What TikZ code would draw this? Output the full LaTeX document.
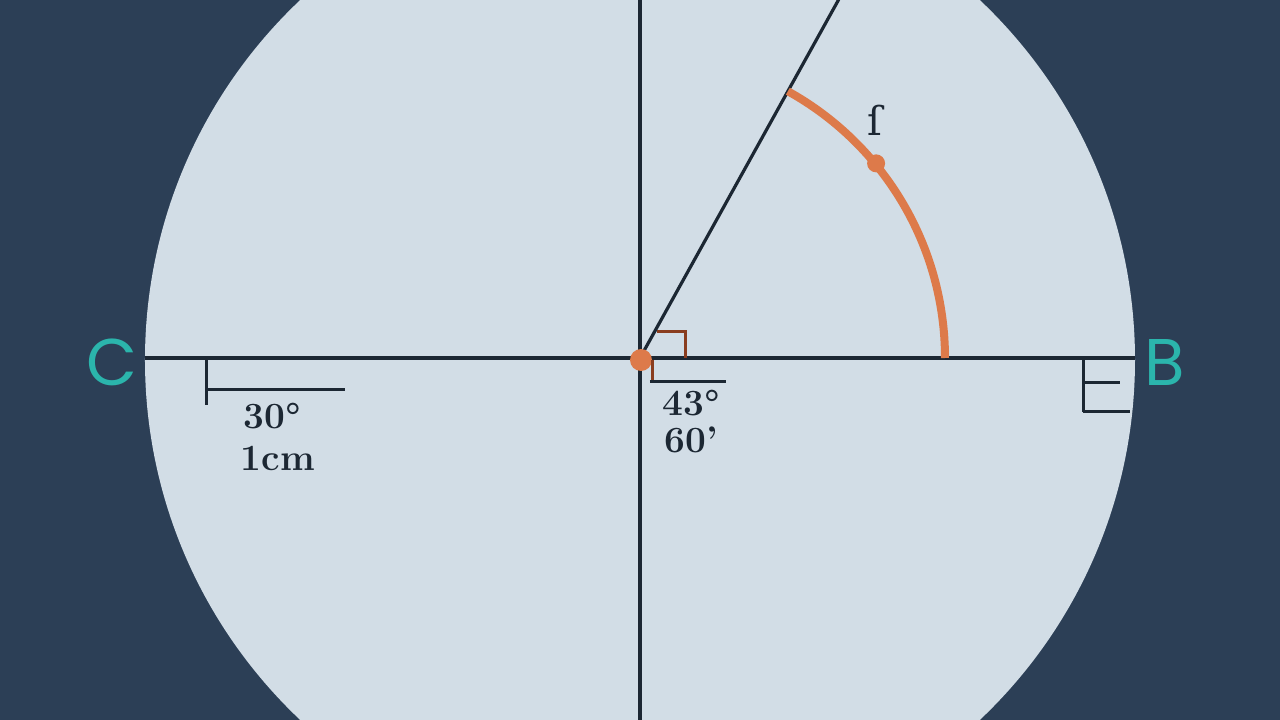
\documentclass[tikz,border=0pt]{standalone}
\usepackage{fontspec}
\newfontfamily\labelfont{Poppins}
\newfontfamily\markfont{DejaVu Serif}
\definecolor{bgnavy}{HTML}{2C3F56}
\definecolor{diskfill}{HTML}{D2DDE6}
\definecolor{inkline}{HTML}{1C2733}
\definecolor{arcorange}{HTML}{DD7A4A}
\definecolor{markbrown}{HTML}{8A3D1F}
\definecolor{tealtext}{HTML}{2BB5AC}
\tikzset{
  mainline/.style={draw=inkline, line width=3.2pt},
  tickline/.style={draw=inkline, line width=3pt},
  brownline/.style={draw=markbrown, line width=3pt},
  arcline/.style={draw=arcorange, line width=8pt},
  numlabel/.style={text=inkline, font=\fontsize{37}{40}\selectfont\bfseries, inner sep=0pt},
  pointlabel/.style={text=tealtext, font=\labelfont\fontsize{66}{70}\selectfont, inner sep=0pt},
}
\begin{document}
\begin{tikzpicture}[x=1pt,y=1pt]
\useasboundingbox (-640,-362) rectangle (640,358);
\fill[bgnavy] (-640,-362) rectangle (640,358);
\fill[diskfill] (0,-2) circle (495pt);
% coordinates
\coordinate (O) at (0,0);
\coordinate (L) at (-495,0);
\coordinate (R) at (495,0);
\coordinate (T) at (0,358);
\coordinate (D) at (0,-362);
\coordinate (P) at (61:410);
\coordinate (A0) at (305,0);
% main lines
\draw[mainline] (L) -- (R);
\draw[mainline] (T) -- (D);
\draw[mainline] (O) -- (P);
% orange arc
\draw[arcline] (A0) arc[start angle=0, end angle=61, radius=305pt];
\fill[arcorange] (39.5:306) circle (9pt);
\fill[arcorange] (1,-2) circle (11pt);
% right-angle mark near centre
\draw[brownline] (17,26) -- (46,26) -- (46,0);
\draw[brownline] (13,-2) -- (13,-23);
\draw[tickline] (10,-23) -- (86,-23);
\node[numlabel] (n43) at (51,-45) {43°};
\node[numlabel] (n60) at (51,-82) {60’};
% left mark
\draw[tickline] (-433,-2) -- (-433,-47);
\draw[tickline] (-433,-31) -- (-295,-31);
\node[numlabel] (n30) at (-368,-58) {30°};
\node[numlabel] (n1cm) at (-362,-100) {1cm};
% right mark
\draw[tickline] (443,0) -- (443,-54);
\draw[tickline] (443,-24) -- (480,-24);
\draw[tickline] (443,-53) -- (490,-53);
% point labels
\node[pointlabel] (C) at (-528,-4) {C};
\node[pointlabel] (B) at (525,-4) {B};
\node[text=inkline, font=\markfont\fontsize{40}{44}\selectfont, inner sep=0pt] (f) at (235,238) {ſ};
\end{tikzpicture}
\end{document}
